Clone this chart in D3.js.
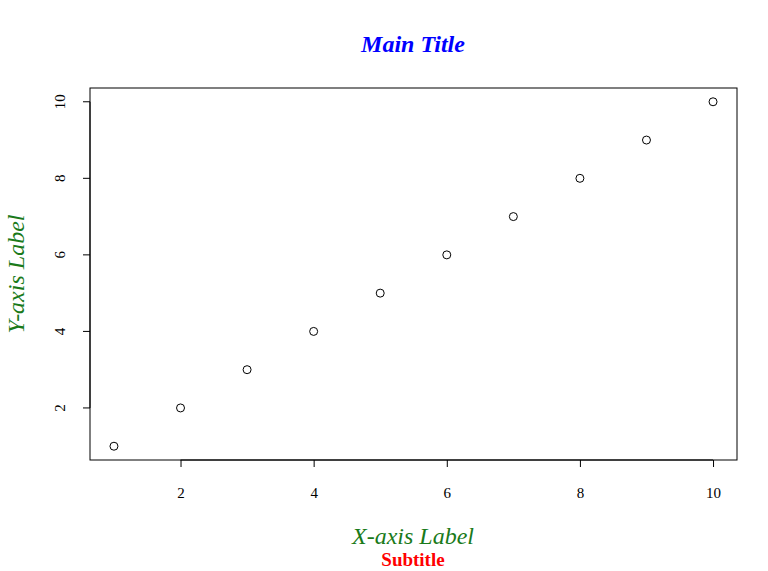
<!DOCTYPE html>
<html>
<head>
<meta charset="utf-8">
<script src="https://cdn.jsdelivr.net/npm/d3@7"></script>
<style>
  body { margin: 0; background: #fff; }
  text { font-family: "Liberation Serif", "DejaVu Serif", serif; }
</style>
</head>
<body>
<svg id="chart" width="768" height="571"></svg>
<script>
// data
var xValues = [1, 2, 3, 4, 5, 6, 7, 8, 9, 10];
var yValues = [1, 2, 3, 4, 5, 6, 7, 8, 9, 10];
var xTicks = [2, 4, 6, 8, 10];
var yTicks = [2, 4, 6, 8, 10];

var svg = d3.select("#chart");
var box = { left: 90, right: 737, top: 88, bottom: 460 };

// R pads the data range by 4% on each side
var x = d3.scaleLinear().domain([0.64, 10.36]).range([box.left, box.right]);
var y = d3.scaleLinear().domain([0.64, 10.36]).range([box.bottom, box.top]);

svg.append("rect")
    .attr("x", box.left).attr("y", box.top)
    .attr("width", box.right - box.left).attr("height", box.bottom - box.top)
    .attr("fill", "none").attr("stroke", "#000");

var xAxis = svg.append("g")
    .attr("transform", "translate(0," + box.bottom + ")")
    .call(d3.axisBottom(x).tickValues(xTicks).tickSize(7).tickPadding(20));
xAxis.select(".domain").attr("d", "M" + x(2) + ",0H" + x(10));
xAxis.selectAll("text").attr("font-size", 15).attr("font-family", "Liberation Serif");

var yAxis = svg.append("g")
    .attr("transform", "translate(" + box.left + ",0)")
    .call(d3.axisLeft(y).tickValues(yTicks).tickSize(7));
yAxis.select(".domain").attr("d", "M0," + y(2) + "V" + y(10));
yAxis.selectAll("text")
    .attr("font-size", 15).attr("font-family", "Liberation Serif")
    .attr("transform", function(d) { return "translate(-30," + y(d) + ") rotate(-90)"; })
    .attr("x", 0).attr("y", 0).attr("dy", "0.35em")
    .attr("text-anchor", "middle");
yAxis.selectAll(".tick").attr("transform", null);
yAxis.selectAll(".tick line").attr("transform", function(d) { return "translate(0," + y(d) + ")"; });

svg.append("g").selectAll("circle")
    .data(xValues)
    .join("circle")
    .attr("cx", function(d) { return x(d); })
    .attr("cy", function(d, i) { return y(yValues[i]); })
    .attr("r", 4)
    .attr("fill", "none").attr("stroke", "#000");

svg.append("text").attr("x", 413).attr("y", 52).attr("text-anchor", "middle")
    .attr("font-size", 24).attr("font-weight", "bold").attr("font-style", "italic")
    .attr("fill", "#0000ff").text("Main Title");

svg.append("text").attr("x", 413).attr("y", 544).attr("text-anchor", "middle")
    .attr("font-size", 24).attr("font-style", "italic")
    .attr("fill", "#1a7a1a").text("X-axis Label");

svg.append("text").attr("x", 413).attr("y", 566).attr("text-anchor", "middle")
    .attr("font-size", 19).attr("font-weight", "bold")
    .attr("fill", "#ff0000").text("Subtitle");

svg.append("text").attr("transform", "translate(16,274) rotate(-90)")
    .attr("text-anchor", "middle").attr("dy", "0.35em")
    .attr("font-size", 24).attr("font-style", "italic")
    .attr("fill", "#1a7a1a").text("Y-axis Label");
</script>
</body>
</html>
